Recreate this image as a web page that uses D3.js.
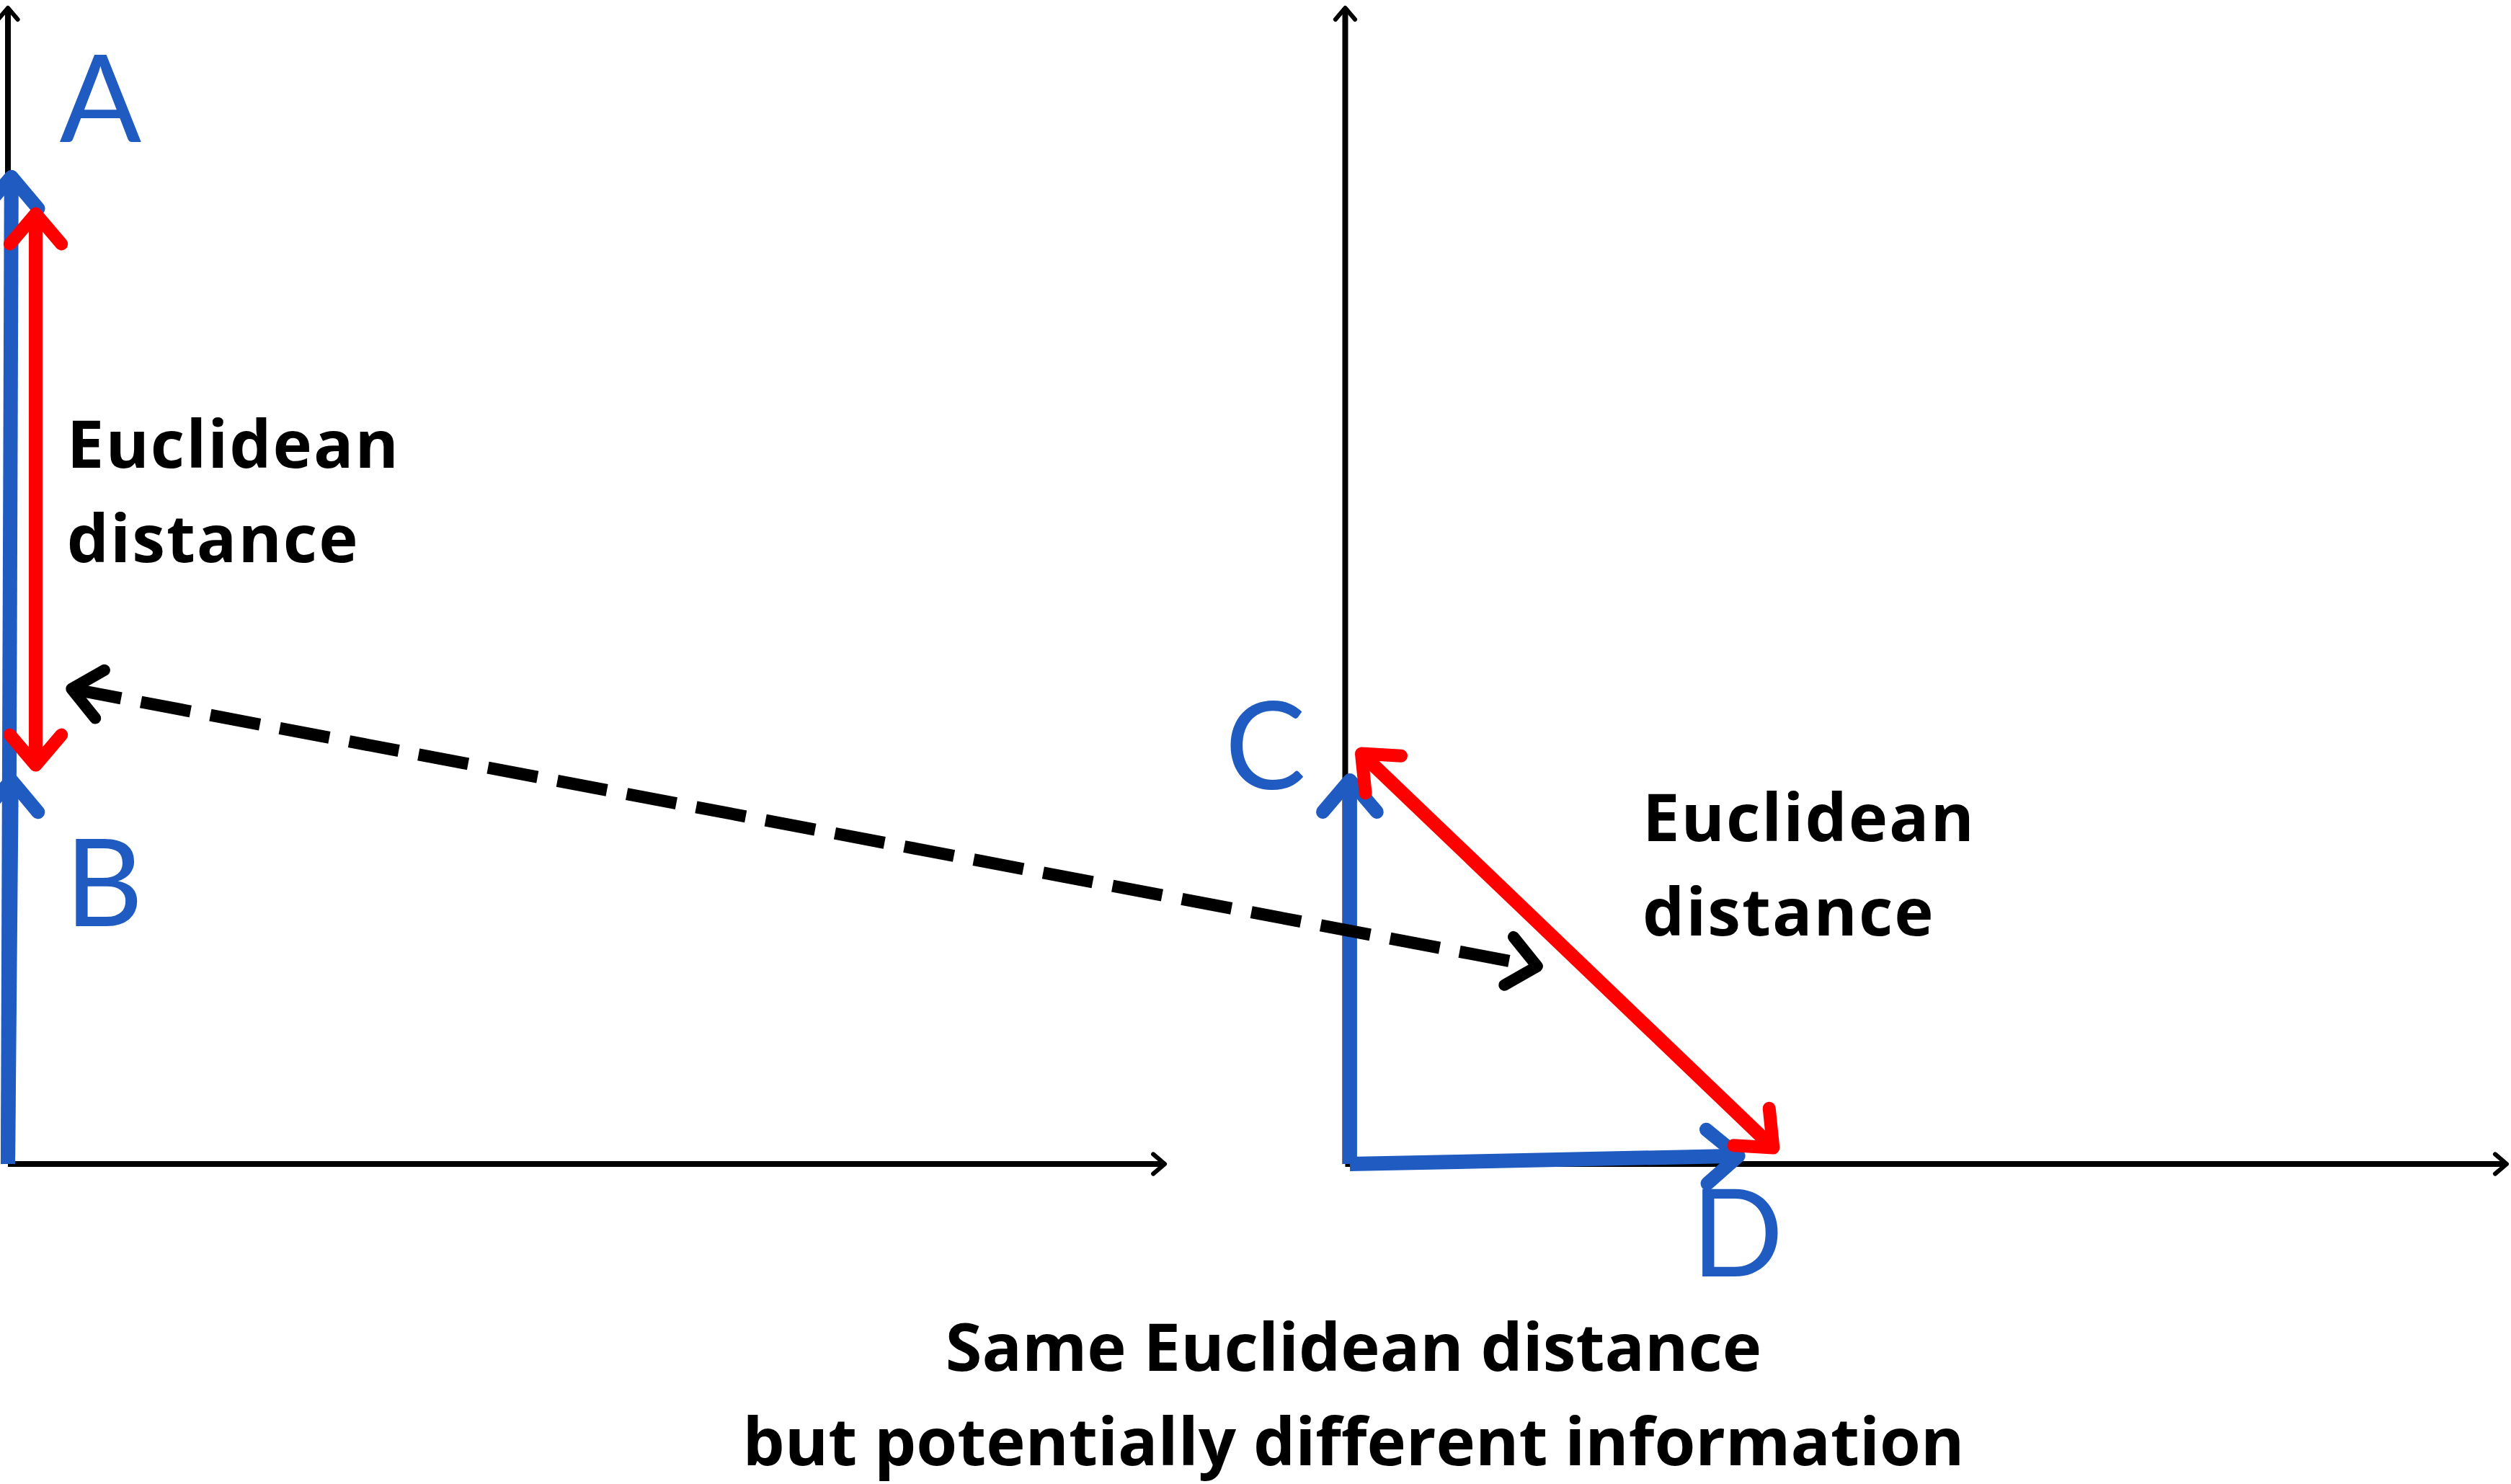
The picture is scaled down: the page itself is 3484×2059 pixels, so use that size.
<!DOCTYPE html>
<html><head><meta charset="utf-8">
<script src="https://cdn.jsdelivr.net/npm/d3@7"></script>
<style>body{margin:0;background:#fff}</style>
</head><body>
<script>
const width=3484, height=2059;
const blue="#1f5bc1", red="#ff0000", black="#000";

// axes: [x1,y1,x2,y2] in data units
const axes=[[0,0,0,10],[0,0,10,0],[11.56,0,11.56,10],[11.56,0,21.6,0]];
// blue vectors from origin
const blueVecs=[[0,0,0.03,8.54],[0,0,0.03,3.32],[11.6,0,11.6,3.32],[11.6,0,14.96,0.07]];
// red double arrows
const redVecs=[[0.24,8.22,0.24,3.45],[11.70,3.55,15.26,0.14]];
const dashed=[0.55,4.11,13.22,1.71];
const pointLabels=[{t:"A",x:0.80,y:8.84},{t:"B",x:0.83,y:2.06},{t:"C",x:10.87,y:3.24},{t:"D",x:14.95,y:-0.97}];
const noteLines=[
  {lines:["Euclidean","distance"],x:0.51,y:6.02},
  {lines:["Euclidean","distance"],x:14.13,y:2.79}
];
const caption=["Same Euclidean distance","but potentially different information"];

const x=d3.scaleLinear().domain([0,21.6]).range([11,3478]);
const y=d3.scaleLinear().domain([0,10]).range([1615,11]);

const svg=d3.select("body").append("svg").attr("width",width).attr("height",height);
const defs=svg.append("defs");
function marker(id,color,s,w){
  defs.append("marker").attr("id",id).attr("markerUnits","userSpaceOnUse")
    .attr("viewBox",`${-s-w} ${-s-w} ${2*s+2*w} ${2*s+2*w}`)
    .attr("markerWidth",2*s+2*w).attr("markerHeight",2*s+2*w)
    .attr("orient","auto-start-reverse")
    .append("path").attr("d",`M${-s},${-s*0.85}L0,0L${-s},${s*0.85}`)
    .attr("fill","none").attr("stroke",color).attr("stroke-width",w)
    .attr("stroke-linecap","round").attr("stroke-linejoin","round");
}
marker("ax",black,16,6);
marker("bl",blue,44,19);
marker("rd",red,42,18);
marker("dk",black,40,16);

svg.selectAll(".axis").data(axes).join("line")
  .attr("x1",d=>x(d[0])).attr("y1",d=>y(d[1])).attr("x2",d=>x(d[2])).attr("y2",d=>y(d[3]))
  .attr("stroke",black).attr("stroke-width",8).attr("marker-end","url(#ax)");

svg.selectAll(".bv").data(blueVecs).join("line")
  .attr("x1",d=>x(d[0])).attr("y1",d=>y(d[1])).attr("x2",d=>x(d[2])).attr("y2",d=>y(d[3]))
  .attr("stroke",blue).attr("stroke-width",20).attr("marker-end","url(#bl)");

svg.selectAll(".rv").data(redVecs).join("line")
  .attr("x1",d=>x(d[0])).attr("y1",d=>y(d[1])).attr("x2",d=>x(d[2])).attr("y2",d=>y(d[3]))
  .attr("stroke",red).attr("stroke-width",19)
  .attr("marker-start","url(#rd)").attr("marker-end","url(#rd)");

svg.append("line")
  .attr("x1",x(dashed[0])).attr("y1",y(dashed[1])).attr("x2",x(dashed[2])).attr("y2",y(dashed[3]))
  .attr("stroke",black).attr("stroke-width",17).attr("stroke-dasharray","70 28")
  .attr("marker-start","url(#dk)").attr("marker-end","url(#dk)");

svg.selectAll(".pl").data(pointLabels).join("text")
  .attr("x",d=>x(d.x)).attr("y",d=>y(d.y)).attr("text-anchor","middle")
  .attr("font-family","Lato, sans-serif").attr("font-size",168).attr("fill",blue)
  .text(d=>d.t);

noteLines.forEach(n=>{
  svg.append("g").selectAll("text").data(n.lines).join("text")
    .attr("x",x(n.x)).attr("y",(d,i)=>y(n.y)+i*131)
    .attr("font-family","Open Sans, sans-serif").attr("font-weight","bold")
    .attr("font-size",92).attr("letter-spacing",2).attr("fill",black).text(d=>d);
});

svg.selectAll(".cap").data(caption).join("text")
  .attr("x",1878).attr("y",(d,i)=>1902+i*131).attr("text-anchor","middle")
  .attr("font-family","Open Sans, sans-serif").attr("font-weight","bold")
  .attr("font-size",92).attr("fill",black).text(d=>d);
</script>
</body></html>
